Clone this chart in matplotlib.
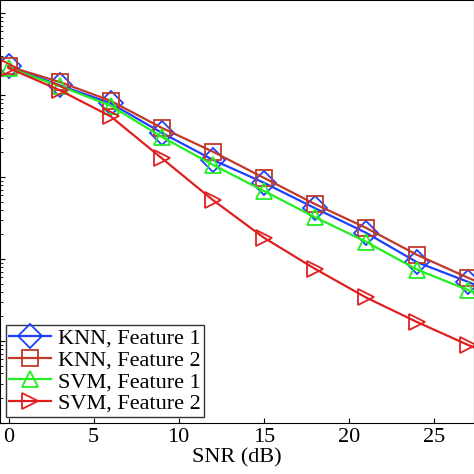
import matplotlib
matplotlib.use("Agg")
import matplotlib.pyplot as plt
import numpy as np

snr = [0, 3, 6, 9, 12, 15, 18, 21, 24, 27, 30]
knn_f1 = [-1.65, -1.88, -2.10, -2.46, -2.79, -3.07, -3.38, -3.68, -4.04, -4.28, -4.55]
knn_f2 = [-1.65, -1.84, -2.07, -2.40, -2.69, -3.01, -3.33, -3.62, -3.95, -4.23, -4.50]
svm_f1 = [-1.67, -1.89, -2.13, -2.51, -2.85, -3.17, -3.49, -3.79, -4.13, -4.38, -4.65]
svm_f2 = [-1.67, -1.94, -2.26, -2.77, -3.28, -3.74, -4.12, -4.47, -4.77, -5.05, -5.30]

plt.rcParams['font.family'] = ['Liberation Serif', 'DejaVu Serif']
fig = plt.figure(figsize=(4.74, 4.74), dpi=100)
ax = fig.add_axes([0.0, 0.108, 1.0, 0.892])

series = [
    (knn_f1, '#1f3fff', 'D', 'KNN, Feature 1'),
    (knn_f2, '#c0392b', 's', 'KNN, Feature 2'),
    (svm_f1, '#22ee22', '^', 'SVM, Feature 1'),
    (svm_f2, '#e02020', '>', 'SVM, Feature 2'),
]
for vals, c, m, lab in series:
    ax.semilogy(snr, 10 ** np.array(vals), color=c, marker=m, mfc='none',
                mec=c, ms=12, mew=1.3, lw=1.6, label=lab)

ax.set_xlim(-0.5, 27.35)
ax.set_ylim(10 ** -6.0, 10 ** -0.84)
ax.set_xticks([0, 5, 10, 15, 20, 25])
ax.tick_params(axis='x', labelsize=16, direction='in')
ax.tick_params(axis='y', which='both', direction='in', labelleft=False)
ax.set_xlabel('SNR (dB)', fontsize=16, labelpad=1)
leg = ax.legend(loc='lower left', fontsize=16, frameon=True, fancybox=False,
                edgecolor='black', borderpad=0.15, handlelength=1.9,
                handletextpad=0.3, labelspacing=0.05, borderaxespad=0.25)
leg.get_frame().set_linewidth(1.0)
fig.savefig('out.png', dpi=100)
